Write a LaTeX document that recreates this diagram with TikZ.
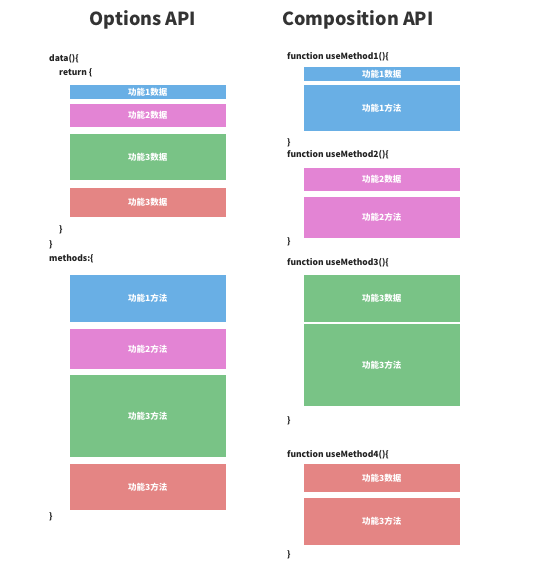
\documentclass[tikz,border=0pt]{standalone}
\usepackage{fontspec}
\setmainfont{Noto Sans CJK SC}
\usepackage{xcolor}
\usetikzlibrary{positioning}

\definecolor{fblue}{HTML}{69AFE5}
\definecolor{fpink}{HTML}{E384D4}
\definecolor{fgreen}{HTML}{79C386}
\definecolor{fred}{HTML}{E48584}
\definecolor{txt}{HTML}{222222}

\begin{document}
\begin{tikzpicture}[
    x=1pt, y=-1pt,
    every node/.style={font=\fontsize{8.5}{10}\selectfont\bfseries, text=txt, inner sep=0pt},
    title/.style={font=\fontsize{18}{22}\selectfont\bfseries, text=black!80},
    code/.style={anchor=west},
    box/.style={anchor=north west, draw=white, line width=0.6pt, minimum width=157pt, text=white}
]
\useasboundingbox (0,0) rectangle (539,571);

% titles
\node[title] (topt) at (143,20) {Options API};
\node[title] (tcomp) at (358,20) {Composition API};

% Options API
\node[code] (data) at (49,59) {data()\{};
\node[code] (ret) at (59,73) {return \{};
\node[box, fill=fblue, minimum height=15pt] (d1) at (69,84) {功能1数据};
\node[box, fill=fpink, minimum height=24pt] (d2) at (69,103) {功能2数据};
\node[box, fill=fgreen, minimum height=47pt] (d3) at (69,133) {功能3数据};
\node[box, fill=fred, minimum height=30pt] (d4) at (69,187) {功能3数据};
\node[code] (cret) at (59,230) {\}};
\node[code] (cdata) at (49,245) {\}};
\node[code] (meth) at (49,259) {methods:\{};
\node[box, fill=fblue, minimum height=48pt] (m1) at (69,274) {功能1方法};
\node[box, fill=fpink, minimum height=41pt] (m2) at (69,328) {功能2方法};
\node[box, fill=fgreen, minimum height=83pt] (m3) at (69,374) {功能3方法};
\node[box, fill=fred, minimum height=47pt] (m4) at (69,463) {功能3方法};
\node[code] (cmeth) at (49,517) {\}};

% Composition API
\node[code] (f1) at (287,57) {function useMethod1()\{};
\node[box, fill=fblue, minimum height=15pt] (u1d) at (303,66) {功能1数据};
\node[box, fill=fblue, minimum height=47pt] (u1m) at (303,84) {功能1方法};
\node[code] (c1) at (287,143) {\}};

\node[code] (f2) at (287,155) {function useMethod2()\{};
\node[box, fill=fpink, minimum height=24pt] (u2d) at (303,167) {功能2数据};
\node[box, fill=fpink, minimum height=42pt] (u2m) at (303,196) {功能2方法};
\node[code] (c2) at (287,242) {\}};

\node[code] (f3) at (287,263) {function useMethod3()\{};
\node[box, fill=fgreen, minimum height=48pt] (u3d) at (303,274) {功能3数据};
\node[box, fill=fgreen, minimum height=83pt] (u3m) at (303,323) {功能3方法};
\node[code] (c3) at (287,421) {\}};

\node[code] (f4) at (287,455) {function useMethod4()\{};
\node[box, fill=fred, minimum height=29pt] (u4d) at (303,463) {功能3数据};
\node[box, fill=fred, minimum height=48pt] (u4m) at (303,497) {功能3方法};
\node[code] (c4) at (287,555) {\}};
\end{tikzpicture}
\end{document}
